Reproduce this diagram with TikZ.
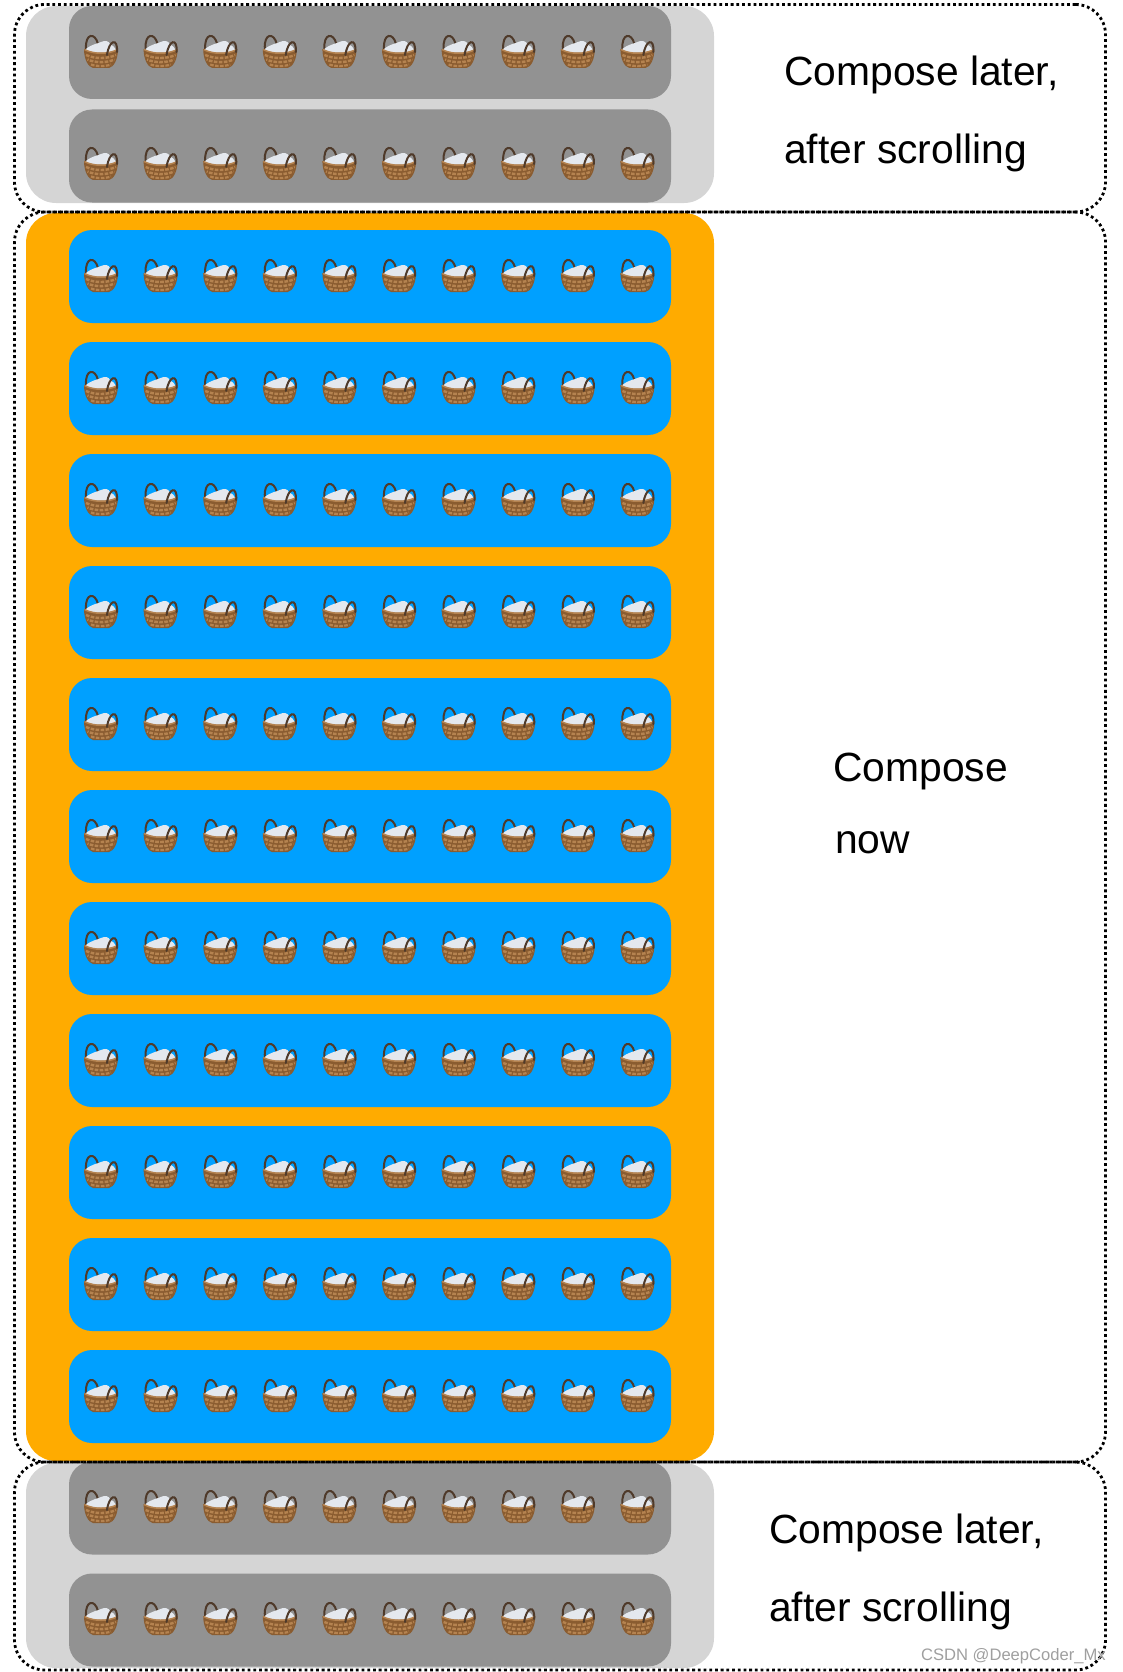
\documentclass[tikz,border=0pt]{standalone}
\usepackage{fontspec}
\setmainfont{Liberation Sans}
\usetikzlibrary{positioning}
\definecolor{panelgray}{HTML}{D5D5D5}
\definecolor{rowgray}{HTML}{929292}
\definecolor{panelorange}{HTML}{FFAB00}
\definecolor{rowblue}{HTML}{00A0FF}
\definecolor{wicker}{HTML}{8A5C30}
\definecolor{wickerlight}{HTML}{B58350}
\definecolor{handle}{HTML}{4F3A2A}
\definecolor{cloth}{HTML}{E4E8EE}
\tikzset{
  panel/.style={rounded corners=30pt,inner sep=0pt,minimum width=688pt},
  rowbox/.style={rounded corners=23pt,inner sep=0pt,minimum width=602pt,minimum height=93pt},
  scrollbox/.style={draw=black,line width=2.8pt,dash pattern=on 2.8pt off 2.9pt,rounded corners=30pt,inner sep=0pt,minimum width=1091pt},
  caption/.style={anchor=base west,inner sep=0pt,font=\fontsize{40.8}{41}\selectfont},
  basket/.pic={
    \draw[handle,line width=2pt,line cap=round] (-15,-3) .. controls (-16,-19) and (-6,-20) .. (-3,-8);
    \fill[cloth] (-15,-3) .. controls (-9,-8) and (-4,-8) .. (0,-10) .. controls (4,-12) and (8,-11) .. (9,-8) .. controls (12,-7) and (14,-4) .. (15,-2) -- (15,3) -- (-15,3) -- cycle;
    \fill[wicker] (-17,-3) .. controls (-8,2) and (8,2) .. (17,-3) .. controls (17,7) and (13,15) .. (8,16) -- (-8,16) .. controls (-13,15) and (-17,7) .. (-17,-3) -- cycle;
    \draw[wickerlight,line width=2.4pt,dash pattern=on 3.6pt off 1.4pt] (-15,3) .. controls (-6,7) and (6,7) .. (15,3);
    \draw[wickerlight,line width=2.4pt,dash pattern=on 3.6pt off 1.4pt,dash phase=2.5pt] (-13.5,7.5) .. controls (-6,11) and (6,11) .. (13.5,7.5);
    \draw[wickerlight,line width=2.2pt,dash pattern=on 3.6pt off 1.4pt] (-10,12.5) .. controls (-5,14.5) and (5,14.5) .. (10,12.5);
    \draw[wickerlight,line width=1.5pt] (-16.5,-2.5) .. controls (-8,2.5) and (8,2.5) .. (16.5,-2.5);
    \draw[handle,line width=2pt,line cap=round] (6,3) .. controls (8,-12) and (17,-15) .. (16,0);
  }
}
\begin{document}
\begin{tikzpicture}[x=1pt,y=-1pt]
\useasboundingbox (0,0) rectangle (1122,1672);
% outer panels
\node[panel,fill=panelgray,minimum height=197pt] (top) at (370,104.5) {};
\node[panel,fill=panelorange,minimum height=1248pt] (mid) at (370,837) {};
\node[panel,fill=panelgray,minimum height=205pt] (bot) at (370,1565.5) {};
% rows of baskets
\foreach \name/\yc/\yb/\col in {t1/52.5/52/rowgray,t2/156/164/rowgray,b1/1508/1507/rowgray,b2/1620/1619/rowgray}{
  \node[rowbox,fill=\col] (\name) at (370,\yc) {};
  \foreach \i in {0,...,9}
    \pic at (101+59.6*\i,\yb) {basket};
}
\foreach \j in {0,...,10}{
  \node[rowbox,fill=rowblue] (m\j) at (370,276.5+112*\j) {};
  \foreach \i in {0,...,9}
    \pic at (101+59.6*\i,276+112*\j) {basket};
}
% dotted frames
\node[scrollbox,minimum height=207.5pt] (later1) at (560,108.25) {};
\node[scrollbox,minimum height=1250pt] (now) at (560,837) {};
\node[scrollbox,minimum height=208pt] (later2) at (560,1566) {};
% captions
\node[caption] (c1) at (784,86) {Compose later,};
\node[caption] (c2) at (784,164) {after scrolling};
\node[caption] (c3) at (833,781) {Compose};
\node[caption] (c4) at (835,853) {now};
\node[caption] (c5) at (769,1543) {Compose later,};
\node[caption] (c6) at (769,1621) {after scrolling};
\node[anchor=base east,inner sep=0pt,text=gray!75,font=\fontsize{16.6}{17}\selectfont] (mark) at (1106,1660) {CSDN @DeepCoder\_Mx};
\end{tikzpicture}
\end{document}
